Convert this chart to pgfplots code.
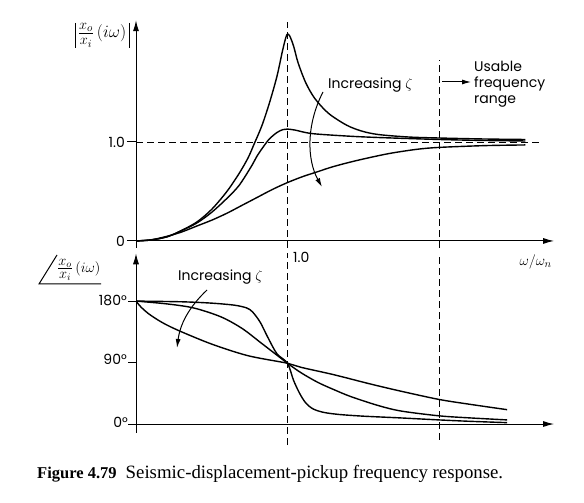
\documentclass[border=0pt]{standalone}
\usepackage{amsmath}
\usepackage{fontspec}
\setmainfont{Liberation Serif}
\newfontfamily\lab{Poppins}
\usepackage{pgfplots}
\pgfplotsset{compat=1.18}
\usetikzlibrary{arrows.meta}
\newcommand{\fr}[1]{\frac{\raisebox{1.5pt}{\fontsize{#1}{#1}\selectfont$x_o$}}{\raisebox{-1.5pt}{\fontsize{#1}{#1}\selectfont$x_i$}}}
\begin{document}
\begin{tikzpicture}
\path[use as bounding box] (0,0) rectangle (584pt,503pt);
\pgfplotsset{
  myax/.style={scale only axis, clip=false, axis y line=left, axis x line=middle,
    xmin=0, xmax=2.76, xtick=\empty, tick align=outside, major tick length=9pt,
    yticklabels={},
    axis line style={line width=1pt, -{Latex[length=11pt,width=6pt]}},
    every tick/.style={line width=1pt, black}},
  curve/.style={line width=1.4pt, smooth, tension=0.5, black, no markers},
  guide/.style={line width=0.8pt, dash pattern=on 7pt off 4pt, black, no markers},
}
% ---------- magnitude ----------
\begin{axis}[myax, at={(136pt,255.1pt)}, anchor=south west,
  width=418.1pt, height=227.7pt, ymin=-0.07, ymax=2.23, ytick={0,1}]
\addplot[guide] coordinates {(0,1) (2.67,1)};
\addplot[guide] coordinates {(1,-0.07) (1,2.21)};
\addplot[guide] coordinates {(2,-0.07) (2,1.83)};
% low damping
\addplot[curve] coordinates {
(0,0) (0.1,0.01) (0.2,0.04) (0.28,0.09) (0.4,0.19) (0.5,0.32) (0.6,0.5)
(0.68,0.68) (0.74,0.84) (0.78,0.98) (0.83,1.16) (0.88,1.39) (0.93,1.66)
(0.967,1.92) (0.99,2.06) (1.0,2.09) (1.015,2.07) (1.04,1.97) (1.07,1.8)
(1.12,1.6) (1.18,1.44) (1.27,1.29) (1.39,1.17) (1.49,1.11) (1.6,1.075)
(1.8,1.05) (2.0,1.04) (2.3,1.03) (2.57,1.025)};
% medium damping
\addplot[curve] coordinates {
(0,0) (0.1,0.01) (0.2,0.04) (0.28,0.09) (0.4,0.18) (0.5,0.29) (0.6,0.43)
(0.68,0.56) (0.76,0.75) (0.8,0.86) (0.84,0.95) (0.88,1.03) (0.93,1.095)
(0.97,1.125) (1.0,1.13) (1.05,1.12) (1.16,1.085) (1.39,1.06) (1.6,1.045)
(2.0,1.025) (2.3,1.015) (2.57,1.01)};
% high damping
\addplot[curve] coordinates {
(0,0) (0.1,0.012) (0.2,0.045) (0.3,0.09) (0.4,0.15) (0.5,0.21) (0.6,0.28)
(0.7,0.36) (0.8,0.44) (0.9,0.52) (1.0,0.59) (1.1,0.65) (1.2,0.70) (1.3,0.75)
(1.45,0.81) (1.66,0.88) (1.85,0.925) (2.0,0.945) (2.3,0.963) (2.57,0.97)};
\end{axis}
% ---------- phase ----------
\begin{axis}[myax, at={(136pt,70.1pt)}, anchor=south west,
  width=418.1pt, height=179.6pt, ymin=-13, ymax=250, ytick={0,90,180},
  major tick length=8pt]
\addplot[guide] coordinates {(1,-31) (1,250)};
\addplot[guide] coordinates {(2,-23) (2,250)};
\addplot[curve] coordinates {
(0,180) (0.3,179) (0.5,177) (0.65,174) (0.73,170) (0.77,164) (0.82,149)
(0.87,127) (0.93,103) (1.0,89) (1.04,64) (1.08,45) (1.12,31) (1.17,22)
(1.24,17) (1.34,14) (1.5,11.5) (1.74,9) (2.0,6) (2.2,4) (2.45,2)};
\addplot[curve] coordinates {
(0,180) (0.2,176) (0.38,170) (0.56,157) (0.7,140) (0.83,118) (1.0,89)
(1.09,75) (1.2,61) (1.31,50) (1.42,40) (1.6,27) (1.75,19) (2.0,12) (2.2,9) (2.45,6)};
\addplot[curve] coordinates {
(0,180) (0.03,172) (0.08,162) (0.17,149) (0.28,137) (0.5,117) (0.74,100)
(1.0,89) (1.09,83) (1.31,72) (1.54,59) (1.75,48) (2.0,36) (2.2,29) (2.45,21)};
\end{axis}
% ---------- annotations (pixel frame) ----------
\begin{scope}[x=1pt,y=-1pt,yshift=503pt]
\lab\fontsize{14}{16}\selectfont
\node[anchor=east,inner sep=0] at (125,241) {0};
\node[anchor=east,inner sep=0] at (125,142) {1.0};
\node[anchor=west,inner sep=0] at (293,257) {1.0};
\node[anchor=east,inner sep=0] at (552,262) {\fontsize{15}{17}\selectfont$\omega/\omega_n$};
\node[inner sep=0] at (102,35) {\fontsize{16}{18}\selectfont$\fr{15}\,(i\omega)$};
\draw[line width=0.9pt] (75,23) -- (75,48) (129,23) -- (129,48);
\node[anchor=base west,inner sep=0] at (328,89) {Increasing $\zeta$};
\node[anchor=base west,inner sep=0] at (474,72) {Usable};
\node[anchor=base west,inner sep=0] at (474,88) {frequency};
\node[anchor=base west,inner sep=0] at (474,104) {range};
\draw[line width=1pt,-{Latex[length=9pt,width=5pt]}] (442,82) -- (471,82);
\draw[line width=1pt,-{Latex[length=9pt,width=5pt]}] (323,92) .. controls (306,125) and (307,160) .. (322,187);
\node[anchor=east,inner sep=0] at (127,301) {180°};
\node[anchor=east,inner sep=0] at (127,359) {90°};
\node[anchor=east,inner sep=0] at (128,422) {0°};
\node[anchor=base west,inner sep=0] at (178,281) {Increasing $\zeta$};
\draw[line width=1pt,-{Latex[length=9pt,width=5pt]}] (207,290) .. controls (188,308) and (180,325) .. (177,348);
\node[anchor=west,inner sep=0] at (57,270) {\fontsize{15}{17}\selectfont$\fr{14}\,(i\omega)$};
\draw[line width=1pt] (57,255) -- (39,284) -- (101,284);
\node[anchor=base west,inner sep=0] at (37,479) {\rmfamily\fontsize{16.5}{19}\selectfont\textbf{Figure 4.79}\hspace{0.55em}\fontsize{18.8}{21}\selectfont Seismic-displacement-pickup frequency response.};
\end{scope}
\end{tikzpicture}
\end{document}
